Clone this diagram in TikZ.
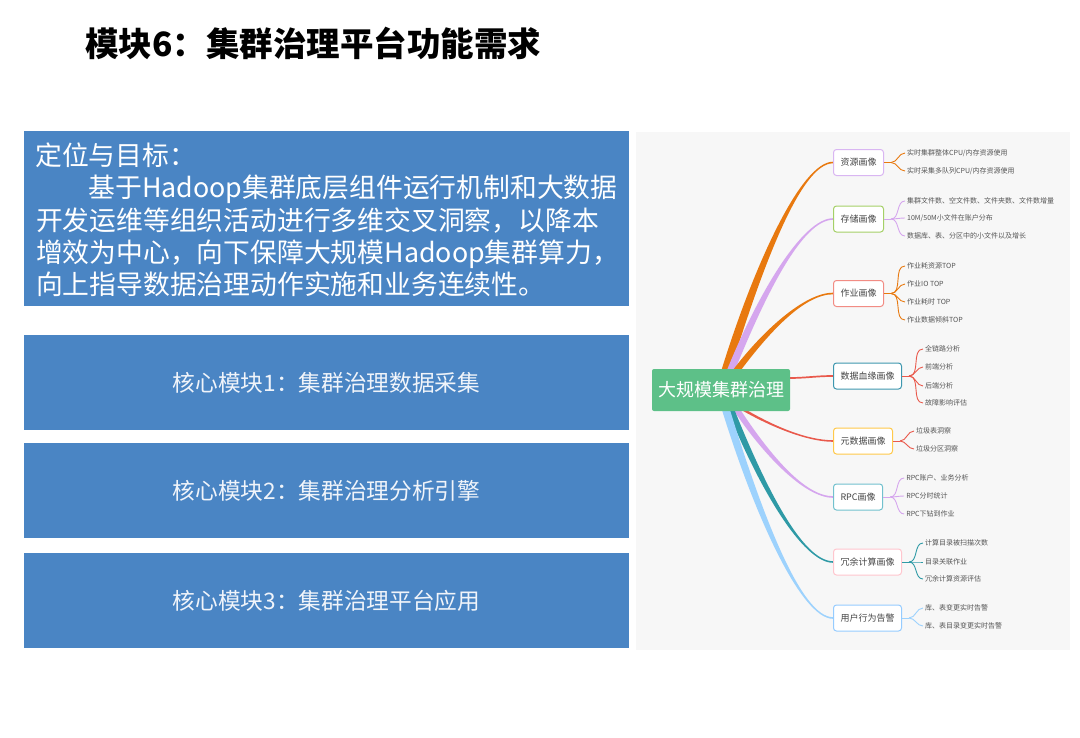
\documentclass[tikz,border=0pt]{standalone}
\usepackage{fontspec}
\setmainfont{Noto Sans CJK SC}
\usetikzlibrary{calc}
\pgfdeclarelayer{panel}\pgfdeclarelayer{bg}
\pgfsetlayers{panel,bg,main}
\definecolor{boxblue}{HTML}{4A85C4}
\definecolor{boxtext}{HTML}{F0F4FA}
\definecolor{panelgray}{HTML}{F7F7F7}
\definecolor{centergreen}{HTML}{5DC088}
\definecolor{orangeB}{HTML}{E8790F}
\definecolor{lavB}{HTML}{D5A6EE}
\definecolor{redB}{HTML}{E9594C}
\definecolor{tealB}{HTML}{2F9AA6}
\definecolor{blueB}{HTML}{9DD2FD}
\definecolor{cbA}{HTML}{D9B6F2}
\definecolor{cbB}{HTML}{A5D067}
\definecolor{cbC}{HTML}{F28C84}
\definecolor{cbD}{HTML}{3E97AF}
\definecolor{cbE}{HTML}{FFC94A}
\definecolor{cbF}{HTML}{72C1CE}
\definecolor{cbG}{HTML}{FFC6CE}
\definecolor{cbH}{HTML}{96CCFF}
\definecolor{cattext}{HTML}{444444}
\definecolor{leaftext}{HTML}{555555}
% tapered branch: colour, start, end, start half width, sign (+1 up, -1 down)
\newcommand\taper[5]{%
  \fill[#1] let \p1=(#2), \p2=(#3), \n1={0.3*(\x2-\x1)}, \n2={0.5*(\y2-\y1)} in
    ({\x1-#4},{\y1}) .. controls ({\x1+\n1-#4},{\y1+\n2}) and ({\x2-\n1},{\y2+(#5)*0.8pt}) .. ({\x2},{\y2+(#5)*0.8pt})
    -- ({\x2},{\y2-(#5)*0.8pt}) .. controls ({\x2-\n1},{\y2-(#5)*0.8pt}) and ({\x1+\n1+#4},{\y1+\n2}) .. ({\x1+#4},{\y1}) -- cycle;}
\begin{document}
\begin{tikzpicture}[x=1pt,y=-1pt,
  titletext/.style={anchor=base west, inner sep=0pt, font=\fontsize{33.5}{40}\selectfont\bfseries},
  blk/.style={fill=boxblue, minimum width=605pt, inner sep=0pt, text=boxtext, font=\fontsize{22.7}{27}\selectfont},
  bodyline/.style={anchor=base west, inner sep=0pt, text=white, font=\fontsize{26.8}{32}\selectfont},
  hub/.style={fill=centergreen, rounded corners=2pt, minimum width=138pt, minimum height=42pt, text=white, font=\fontsize{18}{22}\selectfont},
  cat/.style={anchor=west, fill=white, rounded corners=3pt, line width=1pt, minimum height=26pt, inner xsep=7pt, text=cattext, font=\fontsize{9}{11}\selectfont},
  leaf/.style={anchor=west, inner xsep=2pt, inner ysep=1pt, text=leaftext, font=\fontsize{7}{8.5}\selectfont},
  lk/.style={line width=0.9pt}]
\useasboundingbox (0,0) rectangle (1080,737);
\begin{pgfonlayer}{panel}
\fill[white] (0,0) rectangle (1080,737);
\fill[panelgray] (636,132) rectangle (1070,650);
\end{pgfonlayer}

% title
\node[titletext] (title) at (85,56) {模块6：集群治理平台功能需求};

% left blocks
\node[blk, minimum height=175pt] (b1) at (326.5,218.5) {};
\node[bodyline] (t1) at (35,165) {定位与目标：};
\node[bodyline] (t2) at (36,197) {\hspace*{1.95em}基于Hadoop集群底层组件运行机制和大数据};
\node[bodyline] (t3) at (36,230) {开发运维等组织活动进行多维交叉洞察，以降本};
\node[bodyline] (t4) at (36,262) {增效为中心，向下保障大规模Hadoop集群算力，};
\node[bodyline] (t5) at (36,294) {向上指导数据治理动作实施和业务连续性。};
\node[blk, minimum height=95pt] (b2) at (326.5,382.5) {核心模块1：集群治理数据采集};
\node[blk, minimum height=95pt] (b3) at (326.5,490.5) {核心模块2：集群治理分析引擎};
\node[blk, minimum height=95pt] (b4) at (326.5,600.5) {核心模块3：集群治理平台应用};

% mind map
\node[hub] (c) at (721,390) {大规模集群治理};
\coordinate (s1) at (726,370);
\coordinate (s2) at (731,370);
\coordinate (s3) at (737,370);
\coordinate (s4) at (789,378);
\coordinate (s5) at (744,410);
\coordinate (s6) at (737,410);
\coordinate (s7) at (731,410);
\coordinate (s8) at (726,410);

\node[cat, draw=cbA] (k1) at (833,162.5) {资源画像};
\node[cat, draw=cbB] (k2) at (833,219) {存储画像};
\node[cat, draw=cbC] (k3) at (833,293.5) {作业画像};
\node[cat, draw=cbD] (k4) at (833,376) {数据血缘画像};
\node[cat, draw=cbE] (k5) at (833,441) {元数据画像};
\node[cat, draw=cbF] (k6) at (833,497) {RPC画像};
\node[cat, draw=cbG] (k7) at (833,562) {冗余计算画像};
\node[cat, draw=cbH] (k8) at (833,618) {用户行为告警};

\begin{pgfonlayer}{bg}
\taper{orangeB}{s1}{k1.west}{4.5pt}{1}
\taper{lavB}{s2}{k2.west}{4pt}{1}
\taper{orangeB}{s3}{k3.west}{4pt}{1}
\draw[redB, line width=1.7pt] (s4) to[out=0,in=180] (k4.west);
\taper{redB}{s5}{k5.west}{2.5pt}{-1}
\taper{lavB}{s6}{k6.west}{3.5pt}{-1}
\taper{tealB}{s7}{k7.west}{3.5pt}{-1}
\taper{blueB}{s8}{k8.west}{4pt}{-1}
\end{pgfonlayer}

% leaves
\node[leaf] (l11) at ($(k1.east)+(21,-9.5)$) {实时集群整体CPU/内存资源使用};
\node[leaf] (l12) at ($(k1.east)+(21,8.5)$) {实时采集多队列CPU/内存资源使用};
\node[leaf] (l21) at ($(k2.east)+(21,-18)$) {集群文件数、空文件数、文件夹数、文件数增量};
\node[leaf] (l22) at ($(k2.east)+(21,-1)$) {10M/50M小文件在账户分布};
\node[leaf] (l23) at ($(k2.east)+(21,17)$) {数据库、表、分区中的小文件以及增长};
\node[leaf] (l31) at ($(k3.east)+(21,-27.5)$) {作业耗资源TOP};
\node[leaf] (l32) at ($(k3.east)+(21,-9.5)$) {作业IO TOP};
\node[leaf] (l33) at ($(k3.east)+(21,8.5)$) {作业耗时 TOP};
\node[leaf] (l34) at ($(k3.east)+(21,26.5)$) {作业数据倾斜TOP};
\node[leaf] (l41) at ($(k4.east)+(21,-27)$) {全链路分析};
\node[leaf] (l42) at ($(k4.east)+(21,-9)$) {前端分析};
\node[leaf] (l43) at ($(k4.east)+(21,10)$) {后端分析};
\node[leaf] (l44) at ($(k4.east)+(21,27)$) {故障影响评估};
\node[leaf] (l51) at ($(k5.east)+(21,-10)$) {垃圾表洞察};
\node[leaf] (l52) at ($(k5.east)+(21,8)$) {垃圾分区洞察};
\node[leaf] (l61) at ($(k6.east)+(21,-19)$) {RPC账户、业务分析};
\node[leaf] (l62) at ($(k6.east)+(21,-1)$) {RPC分时统计};
\node[leaf] (l63) at ($(k6.east)+(21,17)$) {RPC下钻到作业};
\node[leaf] (l71) at ($(k7.east)+(21,-19)$) {计算目录被扫描次数};
\node[leaf] (l72) at ($(k7.east)+(21,0)$) {目录关联作业};
\node[leaf] (l73) at ($(k7.east)+(21,17)$) {冗余计算资源评估};
\node[leaf] (l81) at ($(k8.east)+(21,-10)$) {库、表变更实时告警};
\node[leaf] (l82) at ($(k8.east)+(21,8)$) {库、表目录变更实时告警};

% leaf connectors
\foreach \k/\col/\ls in {k1/orangeB/{l11,l12}, k2/lavB/{l21,l22,l23}, k3/orangeB/{l31,l32,l33,l34},
    k4/redB/{l41,l42,l43,l44}, k5/redB/{l51,l52}, k6/lavB/{l61,l62,l63}, k7/tealB/{l71,l72,l73}, k8/blueB/{l81,l82}}{
  \coordinate (j\k) at ($(\k.east)+(7,0)$);
  \draw[lk, \col] (\k.east) -- (j\k);
  \foreach \l in \ls { \draw[lk, \col] (j\k) to[out=0,in=180] (\l.west); }
}
\end{tikzpicture}
\end{document}
